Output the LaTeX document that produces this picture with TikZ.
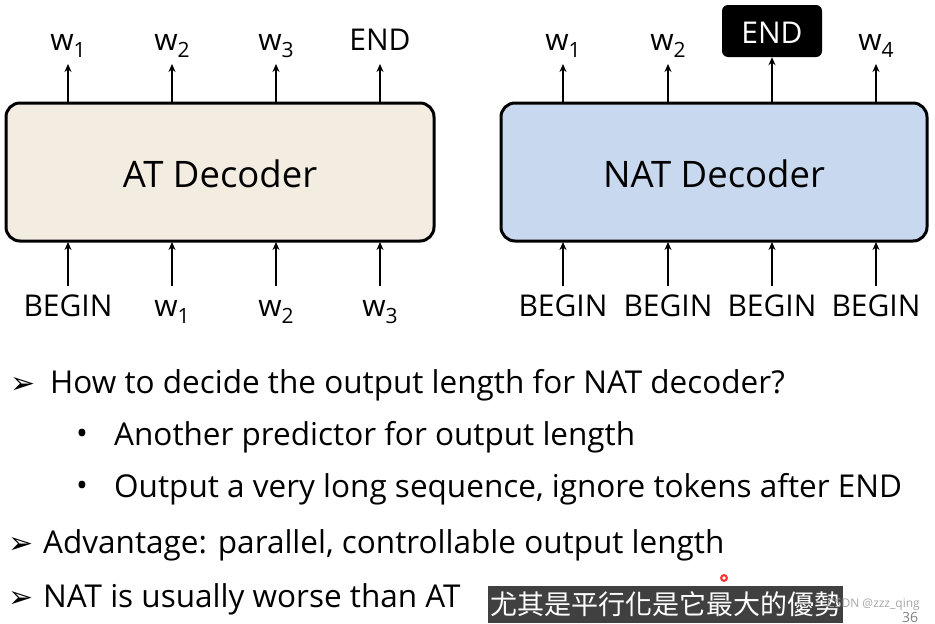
\documentclass[tikz,border=0pt]{standalone}
\usetikzlibrary{arrows.meta}
\usepackage{fontspec}
\setmainfont{Open Sans}
\newfontfamily\cjk{Noto Sans CJK TC}
\newfontfamily\dv{DejaVu Sans}
\newcommand{\wsub}[1]{w\raisebox{-7pt}{\fontsize{21}{24}\selectfont #1}}
\begin{document}
\begin{tikzpicture}[x=1pt,y=-1pt,
  dec/.style={draw=black,line width=3pt,rounded corners=14pt},
  arr/.style={-{Stealth[length=8pt,width=7pt]},line width=1.8pt},
  tok/.style={font=\fontsize{30}{34}\selectfont,inner sep=0pt},
  txt/.style={font=\fontsize{31.5}{34}\selectfont,anchor=west,inner sep=0pt},
  bul/.style={font=\dv\fontsize{30}{32}\selectfont,anchor=west,inner sep=0pt}]
\useasboundingbox[fill=white] (0,0) rectangle (935,624);
\node[dec,fill={rgb,255:red,243;green,236;blue,225},minimum width=428pt,minimum height=138pt] (at) at (220,172) {};
\node[font=\fontsize{36.5}{40}\selectfont] (atl) at (220,174) {AT Decoder};
\node[dec,fill={rgb,255:red,200;green,216;blue,238},minimum width=426pt,minimum height=138pt] (nat) at (714,172) {};
\node[font=\fontsize{36.5}{40}\selectfont] (natl) at (714,174) {NAT Decoder};
% AT
\foreach \x/\t/\b [count=\i] in {68/{\wsub{1}}/BEGIN,172/{\wsub{2}}/{\wsub{1}},276/{\wsub{3}}/{\wsub{2}},380/END/{\wsub{3}}}{
  \node[tok,anchor=base] (ao\i) at (\x,50) {\t};
  \node[tok,anchor=base] (ai\i) at (\x,316) {\b};
  \coordinate (at\i) at (\x,103); \coordinate (ab\i) at (\x,242);
  \draw[arr] (at\i) -- (\x,64);
  \draw[arr] (\x,286) -- (ab\i);
}
% NAT
\node[fill=black,rounded corners=6pt,minimum width=100pt,minimum height=52pt] (endbox) at (772,31) {};
\node[tok,text=white,anchor=base] (nend) at (772,43) {END};
\foreach \x/\t [count=\i] in {563/{\wsub{1}},668/{\wsub{2}},876/{\wsub{4}}}{
  \node[tok,anchor=base] (no\i) at (\x,50) {\t};
}
\foreach \x [count=\i] in {563,668,772,876}{
  \node[tok,anchor=base] (ni\i) at (\x,316) {BEGIN};
  \coordinate (nt\i) at (\x,103);
  \draw[arr] (\x,286) -- (\x,242);
}
\foreach \x [count=\i] in {563,668,876}{\draw[arr] (\x,103) -- (\x,64);}
\draw[arr] (772,103) -- (endbox.south);
% text
\node[bul] (b1) at (10,385) {➢};
\node[txt] (t1) at (50,385) {How to decide the output length for NAT decoder?};
\node[txt] (b2) at (76,437) {•};
\node[txt] (t2) at (114,437) {Another predictor for output length};
\node[txt] (b3) at (76,489) {•};
\node[txt] (t3) at (114,489) {Output a very long sequence, ignore tokens after END};
\node[bul] (b4) at (8,545) {➢};
\node[txt] (t4) at (43,545) {Advantage: parallel, controllable output length};
\node[bul] (b5) at (8,599) {➢};
\node[txt] (t5) at (43,599) {NAT is usually worse than AT};
\node[anchor=west,fill={rgb,255:red,64;green,64;blue,64},text=white,inner sep=2pt,minimum height=37pt,font=\cjk\fontsize{27}{30}\selectfont] (sub) at (488,604) {尤其是平行化是它最大的優勢};
\node[anchor=east,text=gray!70,font=\fontsize{12}{14}\selectfont,inner sep=0pt] (wm) at (920,605) {CSDN @zzz\_qing};
\node[text=gray,font=\fontsize{14}{16}\selectfont,inner sep=0pt,anchor=north] (pg) at (910,612) {36};
\fill[red!80] (724,578) circle (4pt);
\fill[white] (724,578) circle (1.8pt);
\end{tikzpicture}
\end{document}
